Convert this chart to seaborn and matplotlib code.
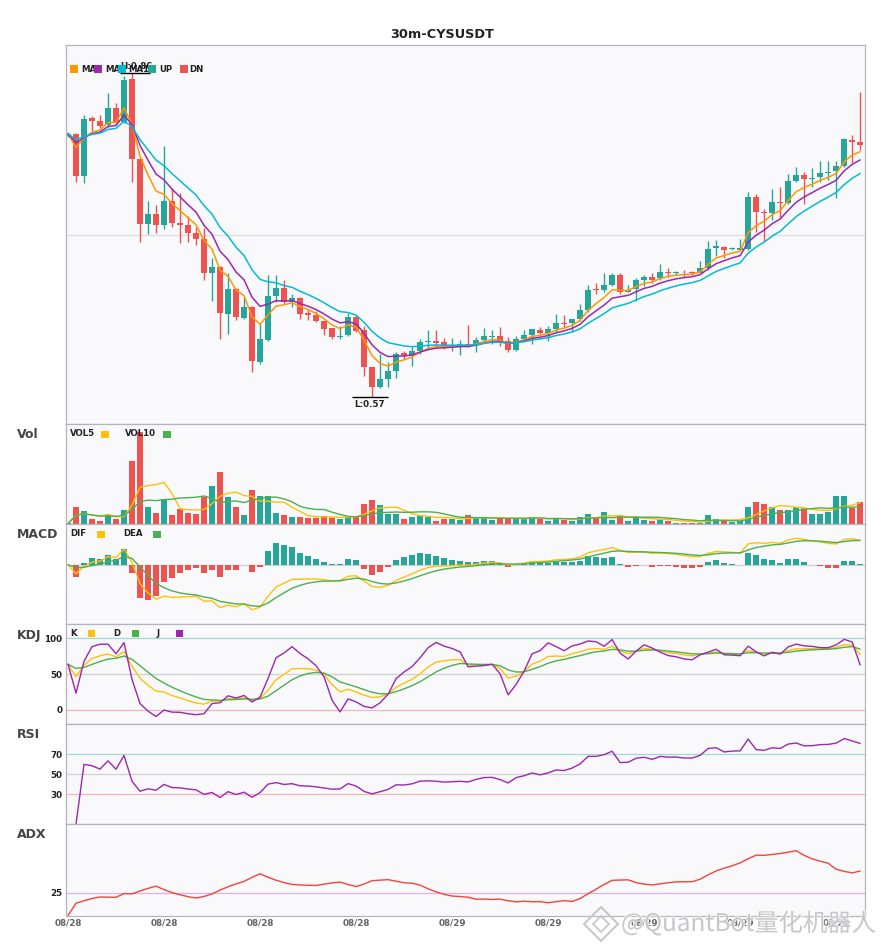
import numpy as np
import pandas as pd
import matplotlib
matplotlib.use("Agg")
import matplotlib.pyplot as plt
import matplotlib.patheffects as pe
from matplotlib.patches import Rectangle
from matplotlib.lines import Line2D
from matplotlib.ticker import NullLocator, FixedLocator
import seaborn as sns

sns.set_theme(style="white")
plt.rcParams['font.family'] = ['DejaVu Sans', 'Noto Sans CJK SC']

# ---------------- data (30m candles, CYSUSDT) ----------------
opens = [0.7936, 0.7961, 0.7549, 0.8124, 0.8093, 0.8053, 0.8228, 0.8083, 0.8535, 0.7713,
         0.7104, 0.7195, 0.7095, 0.7314, 0.7113, 0.7095, 0.7023, 0.6971, 0.6669, 0.6728,
         0.6331, 0.6535, 0.6299, 0.6388, 0.5958, 0.6126, 0.6477, 0.6551, 0.6428, 0.6461,
         0.6339, 0.6323, 0.6275, 0.6220, 0.6150, 0.6165, 0.6307, 0.6205, 0.5921, 0.5773,
         0.5831, 0.5891, 0.6026, 0.6004, 0.6042, 0.6111, 0.6119, 0.6111, 0.6080, 0.6080,
         0.6096, 0.6096, 0.6126, 0.6154, 0.6158, 0.6119, 0.6050, 0.6134, 0.6165, 0.6204,
         0.6181, 0.6212, 0.6260, 0.6260, 0.6291, 0.6363, 0.6535, 0.6527, 0.6568, 0.6652,
         0.6518, 0.6535, 0.6618, 0.6643, 0.6627, 0.6685, 0.6675, 0.6677, 0.6681, 0.6677,
         0.6719, 0.6892, 0.6900, 0.6879, 0.6874, 0.6883, 0.7351, 0.7213, 0.7204, 0.7305,
         0.7296, 0.7502, 0.7559, 0.7521, 0.7540, 0.7578, 0.7597, 0.7645, 0.7901, 0.7881]
highs = [0.7981, 0.7971, 0.8155, 0.8145, 0.8155, 0.8385, 0.8280, 0.8568, 0.8600, 0.7716,
         0.7314, 0.7277, 0.7841, 0.7435, 0.7388, 0.7177, 0.7077, 0.7068, 0.6805, 0.6736,
         0.6669, 0.6551, 0.6469, 0.6396, 0.6252, 0.6652, 0.6652, 0.6610, 0.6494, 0.6469,
         0.6372, 0.6356, 0.6277, 0.6222, 0.6236, 0.6339, 0.6323, 0.6236, 0.5923, 0.6019,
         0.5958, 0.6034, 0.6042, 0.6080, 0.6134, 0.6204, 0.6204, 0.6142, 0.6142, 0.6126,
         0.6244, 0.6150, 0.6220, 0.6204, 0.6228, 0.6150, 0.6158, 0.6204, 0.6214, 0.6228,
         0.6236, 0.6331, 0.6323, 0.6293, 0.6412, 0.6568, 0.6585, 0.6669, 0.6669, 0.6669,
         0.6576, 0.6627, 0.6660, 0.6677, 0.6753, 0.6719, 0.6694, 0.6702, 0.6694, 0.6779,
         0.6953, 0.6962, 0.6905, 0.6896, 0.6970, 0.7398, 0.7379, 0.7240, 0.7426, 0.7445,
         0.7568, 0.7636, 0.7587, 0.7626, 0.7694, 0.7694, 0.7694, 0.7921, 0.7951, 0.8396]
lows = [0.7926, 0.7492, 0.7483, 0.7991, 0.8022, 0.8032, 0.8053, 0.8073, 0.7492, 0.6944,
        0.7015, 0.7023, 0.7059, 0.7077, 0.6935, 0.6944, 0.6918, 0.6618, 0.6444, 0.6134,
        0.6173, 0.6283, 0.6291, 0.5883, 0.5943, 0.6118, 0.6428, 0.6412, 0.6388, 0.6291,
        0.6283, 0.6273, 0.6165, 0.6134, 0.6134, 0.6158, 0.6189, 0.5854, 0.5700, 0.5765,
        0.5773, 0.5839, 0.5981, 0.5928, 0.6019, 0.6065, 0.6065, 0.6057, 0.6042, 0.6011,
        0.6076, 0.6034, 0.6111, 0.6096, 0.6080, 0.6034, 0.6046, 0.6119, 0.6096, 0.6173,
        0.6119, 0.6189, 0.6220, 0.6189, 0.6275, 0.6347, 0.6494, 0.6518, 0.6560, 0.6494,
        0.6510, 0.6444, 0.6560, 0.6585, 0.6610, 0.6635, 0.6652, 0.6643, 0.6652, 0.6669,
        0.6702, 0.6814, 0.6805, 0.6866, 0.6870, 0.6874, 0.7032, 0.6944, 0.7140, 0.7149,
        0.7286, 0.7492, 0.7286, 0.7445, 0.7492, 0.7511, 0.7342, 0.7636, 0.7674, 0.7802]
closes = [0.7961, 0.7549, 0.8114, 0.8093, 0.8042, 0.8228, 0.8083, 0.8525, 0.7713, 0.7104,
          0.7195, 0.7095, 0.7314, 0.7113, 0.7095, 0.7023, 0.6971, 0.6669, 0.6728, 0.6339,
          0.6535, 0.6307, 0.6388, 0.5966, 0.6134, 0.6477, 0.6543, 0.6428, 0.6461, 0.6331,
          0.6323, 0.6275, 0.6212, 0.6150, 0.6158, 0.6307, 0.6197, 0.5921, 0.5773, 0.5831,
          0.5891, 0.6019, 0.6011, 0.6042, 0.6111, 0.6119, 0.6107, 0.6080, 0.6088, 0.6096,
          0.6080, 0.6126, 0.6158, 0.6162, 0.6119, 0.6050, 0.6134, 0.6165, 0.6212, 0.6181,
          0.6212, 0.6260, 0.6252, 0.6291, 0.6363, 0.6527, 0.6527, 0.6568, 0.6660, 0.6518,
          0.6527, 0.6618, 0.6643, 0.6618, 0.6685, 0.6677, 0.6679, 0.6669, 0.6669, 0.6719,
          0.6883, 0.6905, 0.6866, 0.6887, 0.6892, 0.7351, 0.7213, 0.7204, 0.7305, 0.7296,
          0.7502, 0.7559, 0.7521, 0.7530, 0.7578, 0.7587, 0.7645, 0.7911, 0.7881, 0.7851]
volumes = [5, 167, 133, 53, 33, 87, 53, 143, 627, 910,
           167, 113, 240, 87, 153, 113, 103, 267, 373, 513,
           267, 167, 87, 333, 273, 273, 113, 93, 73, 73,
           63, 63, 83, 63, 53, 73, 83, 203, 243, 193,
           97, 97, 53, 73, 93, 73, 33, 53, 53, 43,
           93, 60, 60, 43, 60, 60, 50, 50, 73, 53,
           33, 63, 43, 33, 73, 103, 60, 123, 43, 93,
           33, 67, 43, 33, 53, 33, 13, 13, 13, 13,
           93, 53, 27, 17, 33, 173, 223, 203, 173, 143,
           143, 173, 163, 103, 103, 123, 273, 273, 163, 223]
tick_labels = ['08/28', '08/28', '08/28', '08/28', '08/29', '08/29', '08/29', '08/29', '08/29']
title = '30m-CYSUSDT'

# ---------------- indicators ----------------
df = pd.DataFrame({'open': opens, 'high': highs, 'low': lows, 'close': closes, 'vol': volumes})
n = len(df)
df['idx'] = np.arange(n)
c, h, l = df['close'], df['high'], df['low']
df['ma1'] = c.ewm(span=5, adjust=False).mean()
df['ma2'] = c.ewm(span=8, adjust=False).mean()
df['ma3'] = c.ewm(span=13, adjust=False).mean()
df['vol5'] = df['vol'].rolling(5, min_periods=1).mean()
df['vol10'] = df['vol'].rolling(10, min_periods=1).mean()
dif = df['ma1'] - df['ma3']
dea = dif.ewm(span=5, adjust=False).mean()
df['dif'], df['dea'], df['hist'] = dif, dea, 2 * (dif - dea)
llv = l.rolling(9, min_periods=1).min()
hhv = h.rolling(9, min_periods=1).max()
rsv = ((c - llv) / (hhv - llv) * 100).fillna(50)
df['k'] = rsv.ewm(com=2, adjust=False).mean()
df['d'] = df['k'].ewm(com=2, adjust=False).mean()
df['j'] = 3 * df['k'] - 2 * df['d']
delta = c.diff()
gain = delta.clip(lower=0).ewm(com=13, adjust=True).mean()
loss = (-delta.clip(upper=0)).ewm(com=13, adjust=True).mean()
df['rsi'] = 100 * gain / (gain + loss)
pc = c.shift(1)
tr = pd.concat([h - l, (h - pc).abs(), (l - pc).abs()], axis=1).max(axis=1)
up_m = h.diff()
dn_m = -l.diff()
pdm = pd.Series(np.where((up_m > dn_m) & (up_m > 0), up_m, 0.0))
mdm = pd.Series(np.where((dn_m > up_m) & (dn_m > 0), dn_m, 0.0))
atr = tr.ewm(span=14, adjust=False).mean()
pdi = 100 * pdm.ewm(span=14, adjust=False).mean() / atr
mdi = 100 * mdm.ewm(span=14, adjust=False).mean() / atr
dx = (100 * (pdi - mdi).abs() / (pdi + mdi)).fillna(0)
df['adx'] = dx.ewm(span=14, adjust=False).mean()

# ---------------- styling ----------------
UP, DN = '#26A69A', '#EF5350'
C_MA1, C_MA2, C_MA3 = '#FF9800', '#9C27B0', '#00BCD4'
AMBER, GREEN, PURPLE = '#FFC107', '#4CAF50', '#9C27B0'
BG = '#F9F9FC'
SPINE = '#B4B4BC'
W, H = 885, 950

fig = plt.figure(figsize=(W / 100, H / 100), dpi=100)
fig.patch.set_facecolor('white')


def fx(x):
    return x / W


def fy(y):
    return 1 - y / H


def panel(top, bottom):
    ax = fig.add_axes([fx(66), fy(bottom), (865 - 66) / W, (bottom - top) / H])
    ax.set_facecolor(BG)
    for s in ax.spines.values():
        s.set_color(SPINE)
        s.set_linewidth(0.9)
    ax.set_xlim(-0.25, n - 0.4)
    ax.set_xticks([])
    ax.set_yticks([])
    return ax


ax_main = panel(45, 424)
ax_vol = panel(424, 524)
ax_macd = panel(524, 624)
ax_kdj = panel(624, 724)
ax_rsi = panel(724, 824)
ax_adx = panel(824, 915.5)

colors = np.where(df['close'] >= df['open'], UP, DN)


def line(ax, col, color, lw=1.0):
    sns.lineplot(data=df, x='idx', y=col, ax=ax, color=color, linewidth=lw, zorder=3)
    ax.set_xlabel('')
    ax.set_ylabel('')


# main candles
ax = ax_main
ax.set_yscale('log')
ax.set_ylim(0.551, 0.891)
ax.yaxis.set_major_locator(FixedLocator([0.7]))
ax.yaxis.set_minor_locator(NullLocator())
ax.tick_params(axis='y', length=0, labelleft=False)
ax.grid(axis='y', color='#DEDEE2', linewidth=0.9)
ax.vlines(df['idx'], df['low'], df['high'], colors=colors, linewidth=1.0, zorder=2)
body_lo = np.minimum(df['open'], df['close'])
body_h = np.maximum((df['close'] - df['open']).abs(), 0.0007)
ax.bar(df['idx'], body_h, bottom=body_lo, width=0.74, color=colors, linewidth=0, zorder=2)
line(ax, 'ma1', C_MA1, 1.1)
line(ax, 'ma2', C_MA2, 1.1)
line(ax, 'ma3', C_MA3, 1.1)
ax.set_xlim(-0.25, n - 0.4)
ihi = int(df['high'].idxmax())
ilo = int(df['low'].idxmin())
vhi, vlo = df['high'].max(), df['low'].min()
ax.hlines(vhi, ihi - 1.5, ihi + 2.2, color='black', linewidth=1.0, zorder=4)
ax.annotate(f'H:{vhi:.2f}', (ihi + 0.5, vhi), xytext=(0, 1.5), textcoords='offset points',
            ha='center', va='bottom', fontsize=6.3, fontweight='bold', color='#222', zorder=5)
ax.hlines(vlo, ilo - 2.5, ilo + 2.0, color='black', linewidth=1.0, zorder=4)
ax.annotate(f'L:{vlo:.2f}', (ilo - 0.3, vlo), xytext=(0, -2), textcoords='offset points',
            ha='center', va='top', fontsize=6.3, fontweight='bold', color='#222', zorder=5)

# volume
ax = ax_vol
ax.bar(df['idx'], df['vol'], width=0.74, color=colors, linewidth=0, zorder=2)
line(ax, 'vol5', AMBER)
line(ax, 'vol10', GREEN)
ax.set_ylim(0, df['vol'].max() * 1.09)
ax.set_yticks([])

# macd
ax = ax_macd
hcol = np.where(df['hist'] >= 0, UP, DN)
ax.axhline(0, color='#D0D0D4', linewidth=0.9, zorder=1)
ax.bar(df['idx'], df['hist'], width=0.74, color=hcol, linewidth=0, zorder=2)
line(ax, 'dif', AMBER)
line(ax, 'dea', GREEN)
lo = min(df['dif'].min(), df['dea'].min(), df['hist'].min())
hi = max(df['dif'].max(), df['dea'].max(), df['hist'].max())
r = hi - lo
ax.set_ylim(lo - 0.2 * r, hi + 0.2 * r)
ax.set_yticks([])

# kdj
ax = ax_kdj
ax.axhline(100, color='#9ED9D2', linewidth=0.9, zorder=1)
ax.axhline(50, color='#D0D0D4', linewidth=0.9, zorder=1)
ax.axhline(0, color='#F5B5B5', linewidth=0.9, zorder=1)
line(ax, 'k', AMBER)
line(ax, 'd', GREEN)
line(ax, 'j', PURPLE)
ax.set_ylim(-20, 120)
ax.set_yticks([0, 50, 100])

# rsi
ax = ax_rsi
ax.axhline(70, color='#9ED9D2', linewidth=0.9, zorder=1)
ax.axhline(50, color='#D0D0D4', linewidth=0.9, zorder=1)
ax.axhline(30, color='#F5B5B5', linewidth=0.9, zorder=1)
line(ax, 'rsi', PURPLE)
ax.set_ylim(0, 100)
ax.set_yticks([30, 50, 70])

# adx
ax = ax_adx
ax.axhline(25, color='#DDB0E6', linewidth=0.9, zorder=1)
line(ax, 'adx', '#F44336')
ax.set_ylim(0, 100)
ax.set_yticks([25])
ax.set_xticks(np.arange(0, n, 12))
ax.set_xticklabels(tick_labels)

for ax in (ax_main, ax_vol, ax_macd, ax_kdj, ax_rsi, ax_adx):
    ax.set_xlim(-0.25, n - 0.4)
    ax.tick_params(axis='both', length=0, pad=2.5)
    for t in ax.get_yticklabels() + ax.get_xticklabels():
        t.set_fontsize(6.3)
        t.set_fontweight('bold')
for t in ax_adx.get_xticklabels():
    t.set_color('#666666')
for a in (ax_kdj, ax_rsi, ax_adx):
    for t in a.get_yticklabels():
        t.set_color('#222222')

# ---------------- texts & legends ----------------
fig.text(fx(442), fy(34), title, ha='center', va='center', fontsize=9.3, fontweight='bold', color='#222')
for lab, y in [('Vol', 435), ('MACD', 535), ('KDJ', 636), ('RSI', 735), ('ADX', 835)]:
    fig.text(fx(17), fy(y), lab, ha='left', va='center', fontsize=9, fontweight='bold', color='#444')


def legend_row(y, items):
    for txt, tx, sx, col in items:
        fig.text(fx(tx), fy(y), txt, ha='left', va='center', fontsize=6.2, fontweight='bold',
                 color='#222', zorder=3)
        fig.add_artist(Rectangle((fx(sx), fy(y + 4)), 7.5 / W, 7.5 / H, transform=fig.transFigure,
                                 facecolor=col, edgecolor='none', zorder=4))


legend_row(69, [('MA5', 81, 70, C_MA1), ('MA8', 105, 94, C_MA2), ('MA13', 128, 118, C_MA3),
                ('UP', 159, 148, UP), ('DN', 189, 180, DN)])
legend_row(434, [('VOL5', 70, 101, AMBER), ('VOL10', 125, 163, GREEN)])
legend_row(534, [('DIF', 70, 97, AMBER), ('DEA', 123, 153, GREEN)])
legend_row(633, [('K', 70, 87.5, AMBER), ('D', 113, 131.5, GREEN), ('J', 157, 175.5, PURPLE)])

# watermark
for ms, mew in [(17, 1.5), (8, 1.3)]:
    fig.add_artist(Line2D([fx(601)], [fy(924)], marker='D', markersize=ms, markerfacecolor='none',
                          markeredgecolor='#C8C8CC', markeredgewidth=mew, linestyle='none',
                          transform=fig.transFigure, zorder=6))
fig.text(fx(621), fy(924), '@QuantBot量化机器人', ha='left', va='center', fontsize=17.5,
         color='#C0C0C6', alpha=0.85, family=['Noto Sans CJK SC', 'DejaVu Sans'], zorder=6,
         path_effects=[pe.withStroke(linewidth=1.6, foreground='white', alpha=0.7)])

fig.savefig('out.png', dpi=100, facecolor='white')
